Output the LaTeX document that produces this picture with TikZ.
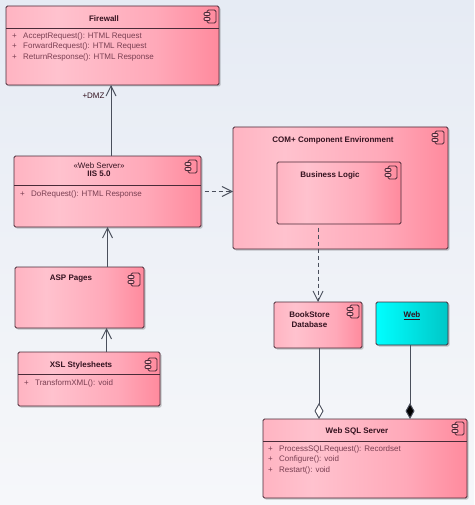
\documentclass[tikz,border=0pt]{standalone}
\usepackage{fontspec}
\setmainfont{Liberation Sans}
\usetikzlibrary{arrows.meta, positioning, shadows}

\definecolor{linedark}{HTML}{4A2B38}
\definecolor{oplabel}{HTML}{7A3F52}
\definecolor{titledark}{HTML}{33121F}
\definecolor{wireline}{HTML}{4A4F5C}
\definecolor{canvastop}{HTML}{E6EBF4}
\definecolor{canvasend}{HTML}{F6F7FA}
\definecolor{pinkedge}{HTML}{FFB4C2}
\definecolor{pinklight}{HTML}{FFC2CE}
\definecolor{pinkmid}{HTML}{FFA9B9}
\definecolor{pinkdeep}{HTML}{FF8A9D}
\definecolor{pinklug}{HTML}{FFB0BF}
\pgfdeclareverticalshading{canvasshade}{100bp}{color(0bp)=(canvasend); color(25bp)=(canvasend); color(75bp)=(canvastop); color(100bp)=(canvastop)}
\pgfdeclarehorizontalshading{pinkshade}{100bp}{color(0bp)=(pinkedge); color(25bp)=(pinkedge); color(37bp)=(pinklight); color(60bp)=(pinkmid); color(75bp)=(pinkdeep); color(100bp)=(pinkdeep)}

\begin{document}
\begin{tikzpicture}[
    x=1pt, y=-1pt,
    plainbox/.style={rectangle, rounded corners=1.5pt, draw=linedark, line width=0.9pt, inner sep=0pt, outer sep=0pt, anchor=north west, shading=pinkshade},
    comp/.style={plainbox, general shadow={fill=black, opacity=0.2, shadow xshift=1.5pt, shadow yshift=-1.5pt}},
    webbox/.style={comp, shading=axis, left color=cyan, middle color=cyan, right color=cyan!78!black},
    title/.style={font=\fontsize{8}{10}\selectfont\bfseries, text=titledark, align=center, inner sep=0pt},
    stereo/.style={font=\fontsize{8}{10}\selectfont, text=titledark, inner sep=0pt},
    ops/.style={font=\fontsize{8}{10.5}\selectfont, text=oplabel, align=left, anchor=north west, inner sep=0pt},
    divider/.style={draw=linedark, line width=0.9pt},
    wire/.style={draw=wireline, line width=1pt},
    openhead/.style={wire, -{Straight Barb[length=10pt, width=10pt, line width=0.9pt]}},
    dep/.style={openhead, dash pattern=on 4pt off 3pt, shorten <=3.5pt},
    compicon/.pic={
        \draw[linedark, line width=0.8pt, rounded corners=1.5pt] (-9,0) rectangle (0,13);
        \draw[linedark, line width=0.8pt, fill=pinklug, rounded corners=1pt] (-12,2.5) rectangle (-6,5.5);
        \draw[linedark, line width=0.8pt, fill=pinklug, rounded corners=1pt] (-12,7.5) rectangle (-6,10.5);
    }
]

% Canvas
\shade[shading=canvasshade] (0,0) rectangle (474,505);
\useasboundingbox (0,0) rectangle (474,505);

% Boxes
\node[comp, minimum width=213pt, minimum height=79pt] (firewall) at (6,6) {};
\node[comp, minimum width=187pt, minimum height=71pt] (iis) at (14,156) {};
\node[comp, minimum width=129pt, minimum height=61pt] (asp) at (15,267) {};
\node[comp, minimum width=142pt, minimum height=54pt] (xsl) at (18,352) {};
\node[comp, minimum width=215pt, minimum height=122pt] (com) at (233,127) {};
\node[plainbox, minimum width=124pt, minimum height=62pt] (logic) at (277,162) {};
\node[comp, minimum width=88pt, minimum height=46pt] (store) at (274,302) {};
\node[webbox, minimum width=72pt, minimum height=43pt] (web) at (376,302) {};
\node[comp, minimum width=204pt, minimum height=79pt] (sql) at (263,419) {};

% Titles
\node[title] (firewalltitle) at (104,18.5) {Firewall};
\node[stereo] (iisstereo) at (99,166) {«Web Server»};
\node[title, below=2pt of iisstereo] (iistitle) {IIS 5.0};
\node[title] (asptitle) at (71,279) {ASP Pages};
\node[title] (xsltitle) at (81,365) {XSL Stylesheets};
\node[title] (comtitle) at (333,140) {COM+ Component Environment};
\node[title] (logictitle) at (330,175) {Business Logic};
\node[title] (storetitle) at (309.5,319.5) {BookStore\\Database};
\node[title] (webtitle) at (412,315.5) {\underline{Web}};
\node[title] (sqltitle) at (357,431) {Web SQL Server};

% Dividers
\draw[divider] ([yshift=-22pt]firewall.north west) -- ([yshift=-22pt]firewall.north east);
\draw[divider] ([yshift=-29pt]iis.north west) -- ([yshift=-29pt]iis.north east);
\draw[divider] ([yshift=-22pt]xsl.north west) -- ([yshift=-22pt]xsl.north east);
\draw[divider] ([yshift=-22pt]sql.north west) -- ([yshift=-22pt]sql.north east);

% Operations
\newcommand{\opline}[1]{\makebox[11pt][l]{+}#1}
\node[ops] (firewallops) at (12,32.5) {\opline{AcceptRequest(): HTML Request}\\\opline{ForwardRequest(): HTML Request}\\\opline{ReturnResponse(): HTML Response}};
\node[ops] (iisops) at (20,191) {\opline{DoRequest(): HTML Response}};
\node[ops] (xslops) at (24,379) {\opline{TransformXML(): void}};
\node[ops] (sqlops) at (268,445) {\opline{ProcessSQLRequest(): Recordset}\\\opline{Configure(): void}\\\opline{Restart(): void}};

% Component icons
\pic at ([xshift=-3pt, yshift=-4pt]firewall.north east) {compicon};
\pic at ([xshift=-4pt, yshift=-4pt]iis.north east) {compicon};
\pic at ([xshift=-4pt, yshift=-6pt]asp.north east) {compicon};
\pic at ([xshift=-3pt, yshift=-6pt]xsl.north east) {compicon};
\pic at ([xshift=-4pt, yshift=-4pt]com.north east) {compicon};
\pic at ([xshift=-4pt, yshift=-4pt]logic.north east) {compicon};
\pic at ([xshift=-3pt, yshift=-3pt]store.north east) {compicon};
\pic at ([xshift=-3pt, yshift=-3pt]sql.north east) {compicon};

% Connectors
\draw[openhead] ([xshift=3.5pt]iis.north) -- node[pos=0.85, left=6pt, font=\fontsize{8}{10}\selectfont, text=titledark, inner sep=0pt] (dmz) {+DMZ} ([xshift=-1.5pt]firewall.south);
\draw[openhead] (iis.south |- asp.north) -- (iis.south);
\draw[openhead] ([xshift=27pt]asp.south |- xsl.north) -- ([xshift=27pt]asp.south);
\draw[dep] (iis.east) -- (iis.east -| com.west);
\draw[dep] (store.north |- logic.south) -- (store.north);
\draw[wire, -{Diamond[open, length=16pt, width=9pt, line width=0.9pt, fill=white]}] ([xshift=1pt]store.south) -- ([xshift=1pt]store.south |- sql.north);
\draw[wire, -{Diamond[length=16pt, width=9pt, fill=black]}] ([xshift=-2pt]web.south) -- ([xshift=-2pt]web.south |- sql.north);

\end{tikzpicture}
\end{document}
